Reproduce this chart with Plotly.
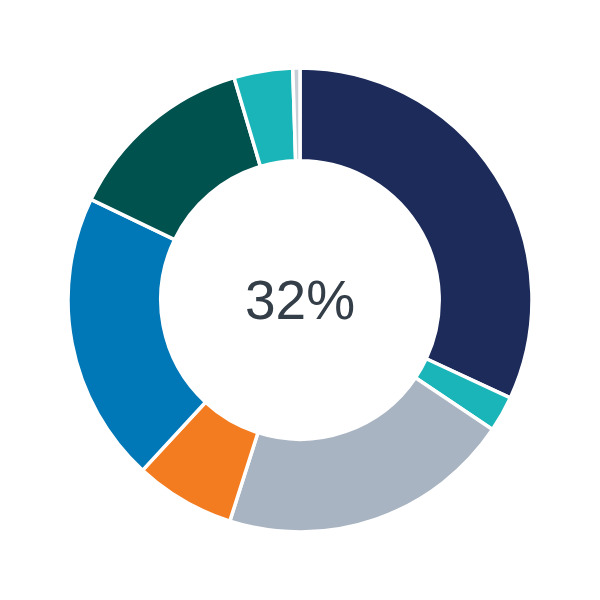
import plotly.graph_objects as go

labels = ["A", "B", "C", "D", "E", "F", "G", "H"]
values = [32, 2.5, 20.5, 7, 20.3, 13.3, 4.1, 0.5]
colors = ["#1c2b5a", "#1ab5b8", "#a9b4c2", "#f47c20", "#0077b6", "#00524f", "#1ab5b8", "#c8ced6"]
center_text = "32%"

fig = go.Figure(go.Pie(
    labels=labels,
    values=values,
    hole=0.6,
    sort=False,
    direction="clockwise",
    rotation=0,
    marker=dict(colors=colors, line=dict(color="white", width=3.5)),
    textinfo="none",
    hoverinfo="label+percent",
    showlegend=False,
))
fig.add_annotation(text=center_text, x=0.5, y=0.5, xref="paper", yref="paper",
                   showarrow=False, font=dict(size=55, color="#343e48", family="Liberation Sans, Arial"))
fig.update_layout(width=600, height=600, margin=dict(l=60, r=76, t=60, b=76),
                  paper_bgcolor="white", plot_bgcolor="white")
fig.write_html("out.html")
